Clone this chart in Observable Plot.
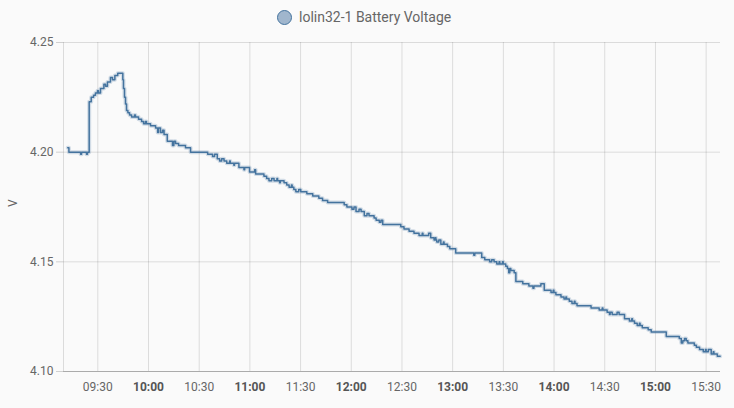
<!DOCTYPE html>
<html><head><meta charset="utf-8">
<script src="https://cdn.jsdelivr.net/npm/d3@7"></script>
<script src="https://cdn.jsdelivr.net/npm/@observablehq/plot@0.6"></script>
<style>
html,body{margin:0;padding:0;background:#fafafa;}
#wrap{position:relative;width:734px;height:408px;font-family:Roboto,sans-serif;}
#legend{position:relative;height:30px;}
.dot{position:absolute;left:277px;top:10px;width:13px;height:13px;border-radius:50%;background:#a0b6cd;border:1px solid #44739e;}
.lab{position:absolute;left:299px;top:9px;font-size:14px;color:#666;line-height:17px;}
</style></head>
<body><div id="wrap"><div id="legend"><span class="dot"></span><span class="lab">lolin32-1 Battery Voltage</span></div><div id="chart"></div></div>
<script>
// time in minutes after midnight
const minutes = [552.2,552.9,559.8,560.4,563.3,563.9,564.9,566.1,567.5,568.6,569.8,570.4,571.6,573.6,574.6,575.7,577.5,578.7,580.1,581.8,
584.8,585.2,585.8,586.4,587.0,587.8,588.8,590.0,591.7,592.3,594.1,595.9,597.1,598.2,598.8,601.2,604.2,605.4,605.9,607.1,608.3,609.2,
611.1,614.2,615.0,616.0,617.8,621.9,624.9,635.0,637.9,639.1,640.7,642.1,643.3,644.7,646.3,653.5,659.8,662.8,663.4,668.3,669.9,671.3,
672.9,674.3,680.2,681.8,683.2,686.0,687.2,688.9,690.1,693.7,697.2,700.8,703.0,706.0,715.8,717.4,720.4,721.6,722.8,724.6,725.8,727.7,
729.3,730.5,733.5,734.7,736.6,737.6,738.6,749.3,751.2,754.2,757.1,760.1,765.8,767.0,769.0,770.6,771.8,773.0,776.9,778.3,781.8,792.5,
793.1,797.2,799.0,801.9,803.1,804.5,806.1,811.4,812.4,813.2,813.8,814.4,816.4,817.4,821.5,825.1,827.5,828.1,832.2,834.2,838.2,841.1,
844.1,845.9,849.0,850.6,853.6,861.9,866.7,871.4,874.4,877.3,878.5,881.7,884.6,887.6,889.2,892.2,895.7,897.5,906.4,914.1,915.3,916.2,
917.2,918.2,919.2,923.0,924.2,926.1,928.3,931.3,933.0,936.6,938.3];
const volts = [4.202,4.200,4.199,4.200,4.199,4.200,4.223,4.225,4.226,4.227,4.228,4.227,4.229,4.231,4.230,4.232,4.234,4.233,4.235,4.236,
4.233,4.229,4.225,4.222,4.219,4.218,4.217,4.216,4.217,4.216,4.215,4.214,4.213,4.214,4.213,4.212,4.211,4.209,4.211,4.209,4.210,4.208,
4.205,4.203,4.205,4.204,4.203,4.202,4.200,4.199,4.198,4.199,4.197,4.196,4.197,4.196,4.195,4.193,4.191,4.192,4.190,4.189,4.188,4.187,
4.188,4.187,4.186,4.185,4.184,4.183,4.182,4.183,4.182,4.181,4.180,4.179,4.178,4.177,4.176,4.175,4.174,4.175,4.173,4.174,4.173,4.171,
4.172,4.171,4.170,4.169,4.168,4.169,4.167,4.166,4.165,4.164,4.163,4.162,4.163,4.161,4.160,4.159,4.160,4.158,4.157,4.156,4.154,4.153,
4.154,4.152,4.151,4.150,4.151,4.150,4.149,4.148,4.147,4.145,4.147,4.146,4.145,4.141,4.140,4.139,4.138,4.139,4.140,4.137,4.136,4.135,
4.134,4.133,4.132,4.131,4.130,4.129,4.128,4.127,4.126,4.127,4.126,4.124,4.123,4.122,4.121,4.120,4.119,4.118,4.116,4.115,4.113,4.114,
4.115,4.114,4.113,4.112,4.111,4.110,4.109,4.110,4.108,4.107,4.107];
// short readings flickering one step away from the level (the jagged parts of the line)
const flickerMinutes = [648.0,648.4,650.5,650.9,656.5,656.9,676.0,676.4,677.6,678.0,684.6,685.0,762.0,762.4,769.8,770.1,774.5,774.9,
807.5,807.9,809.5,809.9,839.5,839.9,847.0,847.4,852.0,852.4,868.5,868.9,872.8,873.2,886.0,886.4,890.5,890.9,929.6,930.0,934.2,934.6];
const flickerVolts = [4.196,4.195,4.194,4.195,4.192,4.193,4.188,4.187,4.186,4.187,4.185,4.184,4.163,4.162,4.161,4.160,4.159,4.158,
4.150,4.149,4.150,4.149,4.137,4.136,4.134,4.133,4.132,4.131,4.129,4.128,4.126,4.127,4.124,4.123,4.122,4.121,4.110,4.109,4.109,4.108];
const xDomainMinutes = [549.7, 938.5];
const yTicks = [4.10, 4.15, 4.20, 4.25];
const halfHourTicks = ["09:30","10:30","11:30","12:30","13:30","14:30","15:30"];
const hourTicks = ["10:00","11:00","12:00","13:00","14:00","15:00"];
const seriesName = "lolin32-1 Battery Voltage";
const yLabel = "V";

const base = new Date(2020, 0, 1).getTime();
const toDate = m => new Date(base + m * 60000);
const parseHM = s => { const [h, m] = s.split(":").map(Number); return toDate(h * 60 + m); };
const data = minutes.map((m, i) => ({m, v: volts[i]}))
  .concat(flickerMinutes.map((m, i) => ({m, v: flickerVolts[i]})))
  .sort((a, b) => a.m - b.m)
  .map(d => ({t: toDate(d.m), v: d.v}));
const half = halfHourTicks.map(parseHM);
const hours = hourTicks.map(parseHM);
const allX = half.concat(hours);

const chart = Plot.plot({
  width: 734, height: 378,
  marginLeft: 63, marginRight: 14, marginTop: 12, marginBottom: 37,
  style: {background: "#fafafa", fontFamily: "Roboto, sans-serif", fontSize: "12px", color: "#666", overflow: "visible"},
  x: {type: "time", domain: xDomainMinutes.map(toDate)},
  y: {domain: [4.10, 4.25]},
  marks: [
    Plot.gridX(allX, {stroke: "#000", strokeOpacity: 0.12}),
    Plot.gridY(yTicks, {stroke: "#000", strokeOpacity: 0.12}),
    Plot.ruleX([toDate(xDomainMinutes[0])], {stroke: "#000", strokeOpacity: 0.12}),
    Plot.ruleY([4.10], {stroke: "#000", strokeOpacity: 0.22}),
    Plot.axisY(yTicks, {tickSize: 7, tickPadding: 3, tickFormat: d => d.toFixed(2), label: null, stroke: "#d0d0d0"}),
    Plot.axisX(half, {tickSize: 0, tickPadding: 11, tickFormat: d3.timeFormat("%H:%M"), label: null}),
    Plot.axisX(hours, {tickSize: 0, tickPadding: 11, tickFormat: d3.timeFormat("%H:%M"), label: null, fontWeight: "bold", fill: "#555"}),
    Plot.text([yLabel], {frameAnchor: "left", dx: -50, rotate: -90, fill: "#666", fontSize: 12}),
    Plot.line(data, {x: "t", y: "v", curve: "step-after", stroke: "#44739e", strokeWidth: 4, strokeOpacity: 0.22}),
    Plot.line(data, {x: "t", y: "v", curve: "step-after", stroke: "#44739e", strokeWidth: 1.5})
  ]
});
document.getElementById("chart").appendChild(chart);
</script>
</body></html>
